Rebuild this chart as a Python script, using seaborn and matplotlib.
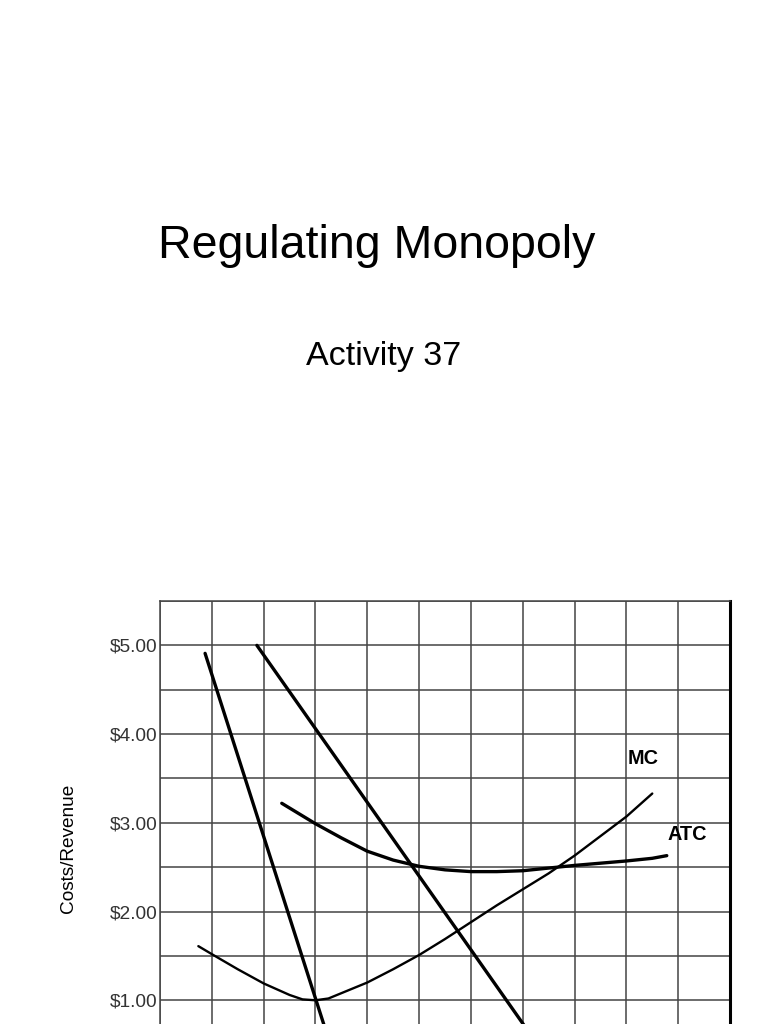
import matplotlib
matplotlib.use("Agg")
import matplotlib.pyplot as plt
import numpy as np
import seaborn as sns

# values (x = quantity in grid units, y = dollars)
mr_q = [0.87, 3.56]
mr_p = [4.91, 0.0]

demand_q = [1.87, 7.89]
demand_p = [5.0, 0.0]

mc_q = [0.74, 1.0, 1.5, 2.0, 2.5, 2.75, 3.0, 3.25, 3.5, 4.0, 4.5, 5.0, 5.5, 6.0, 6.5, 7.0, 7.5, 8.0, 8.5, 9.0, 9.5]
mc_p = [1.61, 1.52, 1.35, 1.19, 1.06, 1.01, 1.00, 1.02, 1.08, 1.20, 1.35, 1.51, 1.69, 1.88, 2.07, 2.25, 2.43, 2.63, 2.85, 3.07, 3.33]

atc_q = [2.35, 3.0, 3.5, 4.0, 4.5, 5.0, 5.5, 6.0, 6.5, 7.0, 7.5, 8.0, 8.5, 9.0, 9.5, 9.78]
atc_p = [3.22, 2.99, 2.83, 2.68, 2.58, 2.51, 2.47, 2.45, 2.45, 2.46, 2.49, 2.52, 2.545, 2.57, 2.60, 2.63]

price_ticks = [0.0, 0.5, 1.0, 1.5, 2.0, 2.5, 3.0, 3.5, 4.0, 4.5, 5.0, 5.5]
price_labels = ["", "", "$1.00", "", "$2.00", "", "$3.00", "", "$4.00", "", "$5.00", ""]
qty_ticks = list(range(0, 12))

sns.set_style("white")
plt.rcParams['font.family'] = ['Liberation Sans', 'DejaVu Sans']
plt.rcParams['text.color'] = 'black'

fig = plt.figure(figsize=(7.68, 10.24), dpi=100)
fig.patch.set_facecolor("white")

fig.text(377/768, 1 - 258/1024, "Regulating Monopoly", fontsize=33.5, ha="center", va="baseline")
fig.text(384/768, 1 - 365/1024, "Activity 37", fontsize=24.5, ha="center", va="baseline")

# axes run past the bottom of the page, like the cropped slide
ax = fig.add_axes([160/768, 1 - 1089/1024, 570/768, 488/1024])

sns.lineplot(x=mr_q, y=mr_p, ax=ax, color="black", linewidth=2.4, sort=False, estimator=None)
sns.lineplot(x=demand_q, y=demand_p, ax=ax, color="black", linewidth=2.4, sort=False, estimator=None)
sns.lineplot(x=atc_q, y=atc_p, ax=ax, color="black", linewidth=2.4, sort=False, estimator=None)
sns.lineplot(x=mc_q, y=mc_p, ax=ax, color="black", linewidth=1.7, sort=False, estimator=None)

ax.text(9.03, 3.73, "MC", fontsize=14.3, fontweight="bold", ha="left", va="center")
ax.text(9.79, 2.87, "ATC", fontsize=14.3, fontweight="bold", ha="left", va="center")

ax.set_xlim(0, 11)
ax.set_ylim(0, 5.5)
ax.set_xticks(qty_ticks)
ax.set_xticklabels([])
ax.set_yticks(price_ticks)
ax.set_yticklabels(price_labels, fontsize=13.8, color="#333333")
ax.tick_params(axis="both", length=0, pad=2)
ax.grid(True, color="#444444", linewidth=1.1)
ax.set_axisbelow(True)

for side in ["left", "top", "bottom"]:
    ax.spines[side].set_color("#444444")
    ax.spines[side].set_linewidth(1.1)
ax.spines["right"].set_color("black")
ax.spines["right"].set_linewidth(2.2)

fig.text(68/768, 1 - 848/1024, "Costs/Revenue", fontsize=13.7, rotation=90, ha="center", va="center")

fig.savefig("out.png", dpi=100)
